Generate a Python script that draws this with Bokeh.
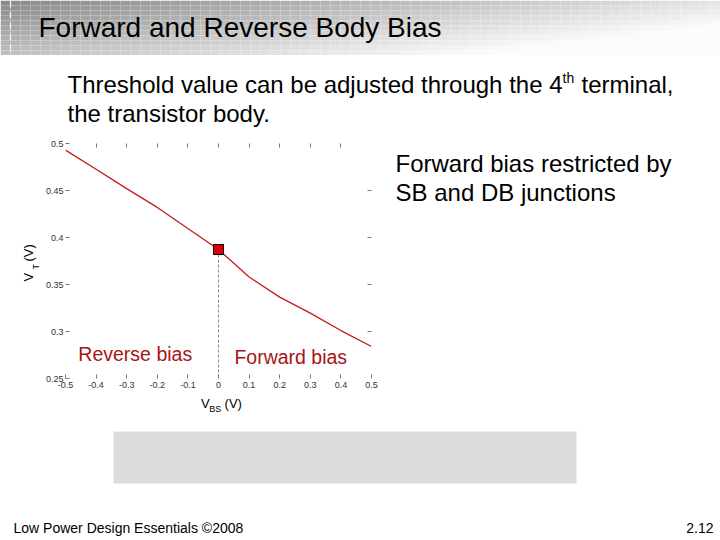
import math
from bokeh.plotting import figure
from bokeh.layouts import column, row
from bokeh.models import Range1d, LinearAxis, FixedTicker, Label
from bokeh.embed import file_html
from bokeh.resources import INLINE

# ---- data ----
vbs = [-0.5, -0.4, -0.3, -0.2, -0.1, 0.0, 0.1, 0.2, 0.3, 0.4, 0.5]
vt = [0.493, 0.4726, 0.452, 0.432, 0.4095, 0.3872, 0.358, 0.3366, 0.3196, 0.301, 0.284]
x_ticks = [-0.5, -0.4, -0.3, -0.2, -0.1, 0.0, 0.1, 0.2, 0.3, 0.4, 0.5]
x_tick_labels = ["-0.5", "-0.4", "-0.3", "-0.2", "-0.1", "0", "0.1", "0.2", "0.3", "0.4", "0.5"]
y_ticks = [0.25, 0.3, 0.35, 0.4, 0.45, 0.5]
y_tick_labels = ["0.25", "0.3", "0.35", "0.4", "0.45", "0.5"]
nominal_vbs = 0.0
nominal_vt = 0.3872

FONT = "Liberation Sans"


def panel(w, h):
    """A plain drawing area whose coordinates are its own pixels (y downwards)."""
    f = figure(width=w, height=h, output_backend="svg", toolbar_location=None,
               x_range=Range1d(0, w), y_range=Range1d(h, 0),
               x_axis_type=None, y_axis_type=None, min_border=0)
    f.outline_line_color = None
    f.grid.visible = False
    f.background_fill_color = "white"
    f.border_fill_color = "white"
    return f


def txt(f, text, x, y, size, color="black", align="left", angle=0):
    f.add_layout(Label(x=x, y=y, text=text, text_font=FONT, text_font_size=size,
                       text_color=color, text_align=align,
                       text_baseline="middle", angle=angle))


# ---------- header band (0..55) ----------
head = panel(720, 55)
L, R, T, B, C = [], [], [], [], []
for i in range(72):
    for j in range(11):
        t = (i + 0.5) / 72
        s = (j + 0.5) / 11
        v = int(min(251, 136 + 90 * t + 58 * s))
        L.append(i * 10); R.append(i * 10 + 10)
        T.append(j * 5); B.append(j * 5 + 5)
        C.append("#%02x%02x%02x" % (v, v, v))
head.quad(left=L, right=R, top=T, bottom=B, fill_color=C, line_color=None)
head.line([10, 10], [0, 55], line_color="#f4f4f4", line_width=1.2, line_dash="7 4")
txt(head, "Forward and Reverse Body Bias", 38, 26.5, "28px")

# ---------- text band (55..135) ----------
body = panel(720, 80)
txt(body, "Threshold value can be adjusted through the 4", 67, 84 - 55, "24px")
txt(body, "th", 562, 77 - 55, "14px")
txt(body, "terminal,", 581, 84 - 55, "24px")
txt(body, "the transistor body.", 67, 113 - 55, "24px")

# ---------- chart band (135..420) ----------
ylab = panel(40, 285)
txt(ylab, "V", 28, 281 - 135, "13px", angle=math.pi / 2)
txt(ylab, "T", 35.5, 269 - 135, "9px", angle=math.pi / 2)
txt(ylab, "(V)", 28, 261 - 135, "13px", angle=math.pi / 2)

p = figure(width=350, height=259, output_backend="svg", toolbar_location=None,
           x_range=Range1d(-0.5, 0.5), y_range=Range1d(0.25, 0.5),
           min_border_left=25, min_border_right=19,
           min_border_top=8, min_border_bottom=16)
p.outline_line_color = None
p.grid.visible = False
p.background_fill_color = "white"
p.border_fill_color = "white"


def style_axis(ax, labels=True):
    ax.axis_line_color = None
    ax.major_tick_in = 4
    ax.major_tick_out = 0
    ax.minor_tick_line_color = None
    ax.major_tick_line_color = "#777777"
    ax.major_label_text_font = FONT
    ax.major_label_text_font_size = "9px"
    ax.major_label_text_color = "#333333" if labels else None


p.xaxis.ticker = FixedTicker(ticks=x_ticks)
p.xaxis.major_label_overrides = {t: l for t, l in zip(x_ticks, x_tick_labels)}
p.yaxis.ticker = FixedTicker(ticks=y_ticks)
p.yaxis.major_label_overrides = {t: l for t, l in zip(y_ticks, y_tick_labels)}
style_axis(p.xaxis[0])
style_axis(p.yaxis[0])
p.xaxis.major_label_standoff = 3
p.yaxis.major_label_standoff = 2
top_ax = LinearAxis(ticker=FixedTicker(ticks=x_ticks[1:-1]))
right_ax = LinearAxis(ticker=FixedTicker(ticks=y_ticks[1:-1]))
style_axis(top_ax, False)
style_axis(right_ax, False)
p.add_layout(top_ax, "above")
p.add_layout(right_ax, "right")

p.add_layout(Label(x=-0.458, y=0.2756, text="Reverse bias", text_font=FONT,
                   text_font_size="19.5px", text_color="#a81414", text_baseline="middle"))
p.add_layout(Label(x=0.052, y=0.2734, text="Forward bias", text_font=FONT,
                   text_font_size="19.5px", text_color="#a81414", text_baseline="middle"))
p.segment(x0=[nominal_vbs], y0=[nominal_vt], x1=[nominal_vbs], y1=[0.25],
          line_color="#888888", line_dash="3 2", line_width=1)
p.line(vbs, vt, line_color="#c41a1a", line_width=1.3)
p.scatter([nominal_vbs], [nominal_vt], marker="square", size=10,
          fill_color="#e00000", line_color="black", line_width=1)

xlab = panel(350, 26)
txt(xlab, "V", 195 - 40, 402.5 - 394, "13px")
txt(xlab, "BS", 204.5 - 40, 408.5 - 394, "9px")
txt(xlab, "(V)", 222 - 40, 403 - 394, "13px")

side = panel(330, 285)
txt(side, "Forward bias restricted by", 5, 163 - 135, "24px")
txt(side, "SB and DB junctions", 5, 192 - 135, "24px")

# ---------- bottom band (420..540) ----------
foot = panel(720, 120)
foot.quad(left=[113], right=[576], top=[11], bottom=[63],
          fill_color="#dcdcdc", line_color=None)
txt(foot, "Low Power Design Essentials ©2008", 13, 527 - 420, "14px")
txt(foot, "2.12", 713, 527 - 420, "14px", align="right")

layout = column(head, body, row(ylab, column(p, xlab), side), foot)

open("out.html", "w").write(file_html(layout, INLINE))
